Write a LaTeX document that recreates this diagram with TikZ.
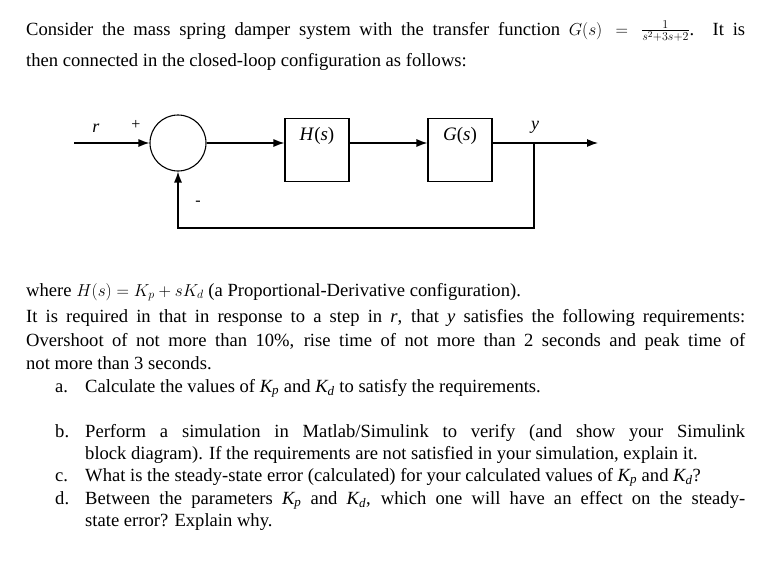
\documentclass[tikz,border=0pt]{standalone}
\usepackage{fontspec}
\setmainfont{Liberation Serif}
\usetikzlibrary{arrows.meta}
\begin{document}
\begin{tikzpicture}[x=1pt,y=-1pt,
  txt/.style={anchor=base west,inner sep=0pt,font=\fontsize{18.6}{21}\selectfont},
  blk/.style={draw,line width=1.1pt,minimum width=64pt,minimum height=63pt,inner sep=0pt},
  sig/.style={line width=1.2pt,-{Latex[length=11pt,width=8pt]}},
  lab/.style={font=\fontsize{18}{20}\selectfont\itshape,inner sep=0pt}]
\useasboundingbox (0,0) rectangle (773,562);
% text
\node[txt] (l1) at (26,35) {\makebox[719pt][s]{Consider the mass spring damper system with the transfer function $G(s) = \frac{1}{s^2+3s+2}$. It is}};
\node[txt] (l2) at (26,66) {then connected in the closed-loop configuration as follows:};
\node[txt] (l3) at (26,296) {where $H(s)=K_p+sK_d$ (a Proportional-Derivative configuration).};
\node[txt] (l4) at (26,322) {\makebox[719pt][s]{It is required in that in response to a step in \textit{r}, that \textit{y} satisfies the following requirements:}};
\node[txt] (l5) at (26,346) {\makebox[719pt][s]{Overshoot of not more than 10\%, rise time of not more than 2 seconds and peak time of}};
\node[txt] (l6) at (26,369) {not more than 3 seconds.};
\node[txt] (a) at (55,392) {a.};
\node[txt] (la) at (85,392) {Calculate the values of \textit{K\textsubscript{p}} and \textit{K\textsubscript{d}} to satisfy the requirements.};
\node[txt] (b) at (55,437) {b.};
\node[txt] (lb1) at (85,437) {\makebox[660pt][s]{Perform a simulation in Matlab/Simulink to verify (and show your Simulink}};
\node[txt] (lb2) at (85,459) {block diagram). If the requirements are not satisfied in your simulation, explain it.};
\node[txt] (c) at (55,481) {c.};
\node[txt] (lc) at (85,481) {What is the steady-state error (calculated) for your calculated values of \textit{K\textsubscript{p}} and \textit{K\textsubscript{d}}?};
\node[txt] (d) at (55,504) {d.};
\node[txt] (ld1) at (85,504) {\makebox[660pt][s]{Between the parameters \textit{K\textsubscript{p}} and \textit{K\textsubscript{d}}, which one will have an effect on the steady-}};
\node[txt] (ld2) at (85,526) {state error? Explain why.};
% diagram
\coordinate (in) at (74,143);
\node[draw,line width=1.1pt,circle,minimum size=56pt,inner sep=0pt] (sum) at (178,143) {};
\node[blk] (H) at (317,150) {};
\node[anchor=center,font=\fontsize{19}{20}\selectfont] (Ht) at (317,136) {\textit{H}(\textit{s})};
\node[blk] (G) at (460,150) {};
\node[anchor=center,font=\fontsize{19}{20}\selectfont] (Gt) at (460,136) {\textit{G}(\textit{s})};
\coordinate (br) at (534,143);
\coordinate (out) at (598,143);
\coordinate (fb) at (534,228);
\coordinate (fb2) at (178,228);
\draw[sig] (in) -- (sum.west);
\draw[sig] (sum.east) -- (H.west |- sum.east);
\draw[sig] (H.east |- sum.east) -- (G.west |- sum.east);
\draw[sig] (G.east |- sum.east) -- (out);
\draw[sig] (br) -- (fb) -- (fb2) -- (sum.south);
\node[lab] (r) at (96,128) {r};
\node[lab,font=\fontsize{16}{18}\selectfont] (plus) at (136,125) {+};
\node[lab,font=\fontsize{16}{18}\selectfont] (minus) at (198,203) {-};
\node[lab] (y) at (535,127) {y};
\end{tikzpicture}
\end{document}
